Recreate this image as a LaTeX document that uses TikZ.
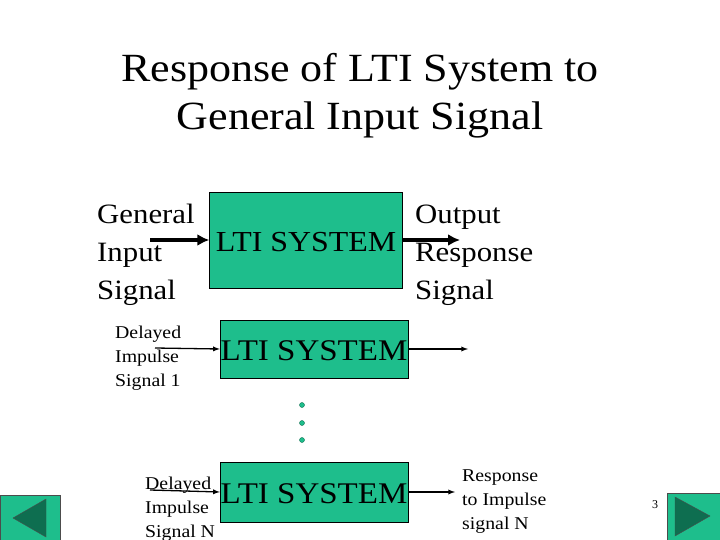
\documentclass[tikz,border=0pt]{standalone}
\usepackage{fontspec}
\usetikzlibrary{arrows.meta}
\setmainfont{Liberation Serif}
\newfontfamily\wide{Liberation Serif}[FakeStretch=1.1]
\begin{document}
\begin{tikzpicture}[x=1pt,y=-1pt,
  lbl/.style={anchor=west,inner sep=0pt,align=left},
  btn/.style={fill=teal1,draw=black!70},
  tri/.style={fill=teal2,draw=black!70}]
\definecolor{teal1}{RGB}{30,190,140}
\definecolor{teal2}{RGB}{14,110,80}
\useasboundingbox (0,0) rectangle (720,540);
\node[font=\wide\fontsize{40}{48}\selectfont,align=center] (title) at (360,96) {Response of LTI System to\\General Input Signal};
% main system
\node[draw=black,fill=teal1,minimum width=193pt,minimum height=96pt,inner sep=0pt] (s1) at (306,240) {};
\node[font=\wide\fontsize{29}{30}\selectfont,inner sep=0pt] (t1) at (306,242) {LTI SYSTEM};
\node[lbl,font=\wide\fontsize{28}{38}\selectfont] (gin) at (97,255) {General\\Input\\Signal};
\node[lbl,font=\wide\fontsize{28}{38}\selectfont] (gout) at (415,255) {Output\\Response\\Signal};
\coordinate (a1) at (150,240);
\coordinate (b1) at (460,240);
\draw[line width=4.5pt,-{Latex[length=12pt,width=12pt]}] (a1) -- (s1.west);
\draw[line width=4.5pt,-{Latex[length=12pt,width=12pt]}] (s1.east) -- (b1);
% second system
\node[draw=black,fill=teal1,minimum width=188pt,minimum height=58pt,inner sep=0pt] (s2) at (314,349) {};
\node[font=\wide\fontsize{30}{30}\selectfont,inner sep=0pt] (t2) at (314,351) {LTI SYSTEM};
\node[lbl,font=\wide\fontsize{18}{24}\selectfont] (d1) at (115,358) {Delayed\\Impulse\\Signal 1};
\coordinate (a2) at (155,348);
\coordinate (b2) at (468,349);
\draw[line width=1.3pt,-latex] (a2) -- (s2.west);
\draw[line width=1.3pt,-latex] (s2.east) -- (b2);
% dots
\foreach \y [count=\i] in {405,423,440}
  \node[circle,draw=teal2,fill=teal1,inner sep=0pt,minimum size=5pt] (dot\i) at (302,\y) {};
% third system
\node[draw=black,fill=teal1,minimum width=188pt,minimum height=60pt,inner sep=0pt] (s3) at (314,492) {};
\node[font=\wide\fontsize{30}{30}\selectfont,inner sep=0pt] (t3) at (314,494) {LTI SYSTEM};
\node[lbl,font=\wide\fontsize{18}{24}\selectfont] (dN) at (145,509) {Delayed\\Impulse\\Signal N};
\node[lbl,font=\wide\fontsize{18}{24}\selectfont] (rN) at (462,502) {Response\\to Impulse\\signal N};
\coordinate (a3) at (150,490);
\coordinate (b3) at (455,492);
\draw[line width=1.3pt,-latex] (a3) -- (s3.west);
\draw[line width=1.3pt,-latex] (s3.east) -- (b3);
% page number and buttons
\node[font=\fontsize{12}{14}\selectfont] (pg) at (655,505) {3};
\draw[btn] (0,495) rectangle (60,540);
\draw[tri] (13,518) -- (46,499) -- (46,537) -- cycle;
\draw[btn] (667,493) rectangle (720,540);
\draw[tri] (675,497) -- (710,516) -- (675,536) -- cycle;
\end{tikzpicture}
\end{document}
